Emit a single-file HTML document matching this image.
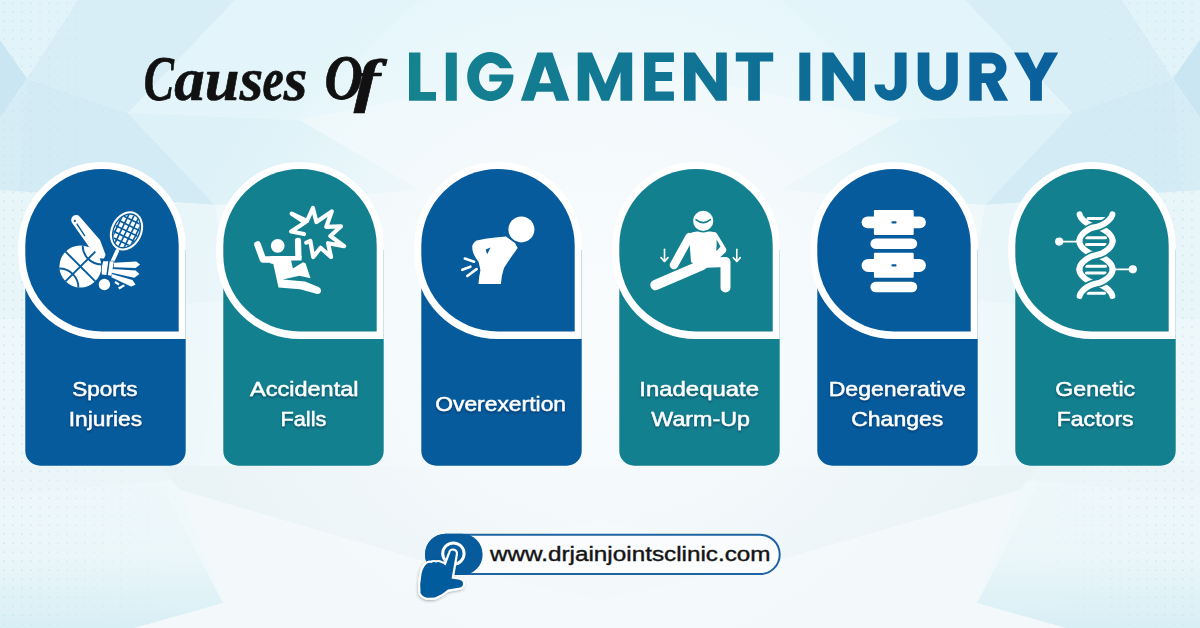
<!DOCTYPE html>
<html><head><meta charset="utf-8">
<style>
html,body{margin:0;padding:0;}
body{width:1200px;height:628px;overflow:hidden;position:relative;background:#e9f5f9;font-family:"Liberation Sans",sans-serif;}
svg{position:absolute;left:0;top:0;}
.ct{font-family:"Liberation Sans",sans-serif;font-size:21px;fill:#fff;stroke:#fff;stroke-width:0.45px;}
</style></head>
<body>
<svg width="1200" height="628" viewBox="0 0 1200 628">
<defs>
  <filter id="ts" x="-10%" y="-30%" width="120%" height="170%"><feDropShadow dx="0" dy="1.6" stdDeviation="1.3" flood-color="#001a33" flood-opacity="0.45"/></filter>
  <linearGradient id="tg" x1="409" y1="0" x2="1059" y2="0" gradientUnits="userSpaceOnUse">
    <stop offset="0" stop-color="#15838f"/>
    <stop offset="1" stop-color="#0a5f9c"/>
  </linearGradient>
</defs>
<defs>
<linearGradient id="bl" x1="0" y1="481" x2="0" y2="628" gradientUnits="userSpaceOnUse"><stop offset="0" stop-color="#eef8fa"/><stop offset="0.5" stop-color="#ebf6f9"/><stop offset="1" stop-color="#d8eff5"/></linearGradient>
<radialGradient id="glow" cx="600" cy="330" r="420" gradientUnits="userSpaceOnUse" gradientTransform="translate(600 330) scale(1 0.9) translate(-600 -330)"><stop offset="0" stop-color="#f9fcfd" stop-opacity="1"/><stop offset="0.55" stop-color="#f6fafc" stop-opacity="0.75"/><stop offset="1" stop-color="#f4fafc" stop-opacity="0"/></radialGradient>
<pattern id="dots" x="0" y="0" width="9" height="9" patternUnits="userSpaceOnUse"><circle cx="4" cy="3.2" r="0.95" fill="#c5e2ee"/></pattern>
<linearGradient id="lfade" x1="0" y1="0" x2="1" y2="0"><stop offset="0" stop-color="#fff" stop-opacity="1"/><stop offset="1" stop-color="#fff" stop-opacity="0"/></linearGradient>
<linearGradient id="rfade" x1="1" y1="0" x2="0" y2="0"><stop offset="0" stop-color="#fff" stop-opacity="1"/><stop offset="1" stop-color="#fff" stop-opacity="0"/></linearGradient>
<mask id="dm"><rect x="0" y="0" width="200" height="628" fill="url(#lfade)"/><rect x="1000" y="0" width="200" height="628" fill="url(#rfade)"/></mask>
</defs>
<rect x="0" y="0" width="1200" height="628" fill="#eff8fa"/>
<polygon points="0,0 78,0 27,78.5 0,40" fill="#e2f4f9"/>
<polygon points="1200,0 1122,0 1173,78.5 1200,40" fill="#e2f4f9"/>
<polygon points="0,40 27,78.5 0,118" fill="#c9e6f2"/>
<polygon points="1200,40 1173,78.5 1200,118" fill="#c9e6f2"/>
<polygon points="78,0 235,0 128,113 27,78.5" fill="#d7eef6"/>
<polygon points="1122,0 965,0 1072,113 1173,78.5" fill="#d7eef6"/>
<polygon points="27,78.5 128,113 215,205 0,190" fill="#d3ebf4"/>
<polygon points="1173,78.5 1072,113 985,205 1200,190" fill="#d3ebf4"/>
<polygon points="0,118 27,78.5 20,180 0,260" fill="#d6edf5"/>
<polygon points="1200,118 1173,78.5 1180,180 1200,260" fill="#d6edf5"/>
<polygon points="235,0 420,0 300,120 128,113" fill="#e3f5fa"/>
<polygon points="965,0 780,0 900,120 1072,113" fill="#e3f5fa"/>
<polygon points="128,113 300,120 420,190 215,205" fill="#ddf2f8"/>
<polygon points="1072,113 900,120 780,190 985,205" fill="#ddf2f8"/>
<polygon points="420,0 600,0 600,60 300,120" fill="#e5f6fb"/>
<polygon points="780,0 600,0 600,60 900,120" fill="#e5f6fb"/>
<polygon points="300,120 600,60 600,180 420,190" fill="#edf8fb"/>
<polygon points="900,120 600,60 600,180 780,190" fill="#edf8fb"/>
<polygon points="0,190 215,205 230,300 0,320" fill="#e8f5f9"/>
<polygon points="1200,190 985,205 970,300 1200,320" fill="#e8f5f9"/>
<polygon points="0,320 230,300 200,466 0,466" fill="#eef8fa"/>
<polygon points="1200,320 970,300 1000,466 1200,466" fill="#eef8fa"/>
<polygon points="0,466 300,466 160,481 0,497" fill="#ecf6f9"/>
<polygon points="1200,466 900,466 1040,481 1200,497" fill="#ecf6f9"/>
<polygon points="160,466 600,466 600,520 420,560 180,490" fill="#eaf3f6"/>
<polygon points="1040,466 600,466 600,520 780,560 1020,490" fill="#eaf3f6"/>
<polygon points="0,497 160,481 223,603 135,628 0,628" fill="url(#bl)"/>
<polygon points="1200,497 1040,481 977,603 1065,628 1200,628" fill="url(#bl)"/>
<polygon points="180,490 420,560 600,600 600,628 135,628 223,603" fill="#f3f9fb"/>
<polygon points="1020,490 780,560 600,600 600,628 1065,628 977,603" fill="#f3f9fb"/>
<rect x="0" y="0" width="1200" height="628" fill="url(#glow)"/>
<rect x="0" y="0" width="1200" height="628" fill="url(#dots)" mask="url(#dm)" opacity="0.7"/>
<text transform="translate(143.81,99.95) scale(0.7528,1.0522)" font-family="Liberation Serif" font-style="italic" font-weight="bold" font-size="60" fill="#111" stroke="#111" stroke-width="0.7" vector-effect="non-scaling-stroke" stroke-linejoin="round">C</text>
<text transform="translate(174.34,99.95) scale(1.0157,1.0056)" font-family="Liberation Serif" font-style="italic" font-weight="bold" font-size="60" fill="#111" stroke="#111" stroke-width="0.7" vector-effect="non-scaling-stroke" stroke-linejoin="round">a</text>
<text transform="translate(204.66,99.95) scale(1.0408,1.0313)" font-family="Liberation Serif" font-style="italic" font-weight="bold" font-size="60" fill="#111" stroke="#111" stroke-width="0.7" vector-effect="non-scaling-stroke" stroke-linejoin="round">u</text>
<text transform="translate(239.87,99.95) scale(1.0034,1.0045)" font-family="Liberation Serif" font-style="italic" font-weight="bold" font-size="60" fill="#111" stroke="#111" stroke-width="0.7" vector-effect="non-scaling-stroke" stroke-linejoin="round">s</text>
<text transform="translate(262.43,99.95) scale(0.7990,1.0045)" font-family="Liberation Serif" font-style="italic" font-weight="bold" font-size="60" fill="#111" stroke="#111" stroke-width="0.7" vector-effect="non-scaling-stroke" stroke-linejoin="round">e</text>
<text transform="translate(283.67,99.95) scale(1.0080,1.0045)" font-family="Liberation Serif" font-style="italic" font-weight="bold" font-size="60" fill="#111" stroke="#111" stroke-width="0.7" vector-effect="non-scaling-stroke" stroke-linejoin="round">s</text>
<text transform="translate(324.43,99.45) scale(0.8869,1.0446)" font-family="Liberation Serif" font-style="italic" font-weight="bold" font-size="60" fill="#111" stroke="#111" stroke-width="0.7" vector-effect="non-scaling-stroke" stroke-linejoin="round">O</text>
<text transform="translate(353.85,99.80) scale(1.3381,0.9906)" font-family="Liberation Serif" font-style="italic" font-weight="bold" font-size="60" fill="#111" stroke="#111" stroke-width="0.7" vector-effect="non-scaling-stroke" stroke-linejoin="round">f</text>
<g fill="url(#tg)" fill-rule="evenodd">
<path d="M409,52.6 H420.4 V91.9 H436 V100.8 H409 Z"/>
<path d="M445.8,52.6 H456.8 V100.8 H445.8 Z"/>
<path d="M512,68.2 A23.1,24.5 0 1 0 513.3,74.4 H489.3 V81.4 H502.1 A11.8,14.1 0 1 1 499.9,68.2 Z"/>
<path d="M520.9,100.8 L537.3,52.6 H552.4 L569.3,100.8 H556.2 L553.1,91.8 H536.6 L533.6,100.8 Z M539.2,83.3 H551 L545,65.9 Z"/>
<path d="M577.7,100.8 V52.6 H592 L605.3,84 L618.5,52.6 H632.2 V100.8 H620.5 V72 L609,100.8 H601.7 L589.3,72 V100.8 Z"/>
<path d="M644.1,52.6 H673.9 V62.1 H655.4 V72.1 H672.1 V81.1 H655.4 V91.5 H673.9 V100.8 H644.1 Z"/>
<path d="M684,52.6 H695 L716.1,82.8 V52.6 H726.8 V100.8 H716 L695.6,72.1 V100.8 H684 Z"/>
<path d="M735.8,52.6 H773.2 V61.6 H759.9 V100.8 H748.2 V61.6 H735.8 Z"/>
<path d="M799.3,52.6 H810.3 V100.8 H799.3 Z"/>
<path d="M822.3,52.6 H833.3 L853.5,81.5 V52.6 H865 V100.8 H854 L833.8,72 V100.8 H822.3 Z"/>
<path d="M894.7,52.6 H906.6 V84.6 A16.05,16.2 0 0 1 874.5,84.6 H884.6 A5.05,5.7 0 0 0 894.7,84.6 Z"/>
<path d="M917.7,52.6 H929.4 V81 A8.4,9 0 0 0 946.2,81 V52.6 H957.8 V81 A20.05,19.8 0 0 1 917.7,81 Z"/>
<path d="M969.4,52.6 H991 A15.9,15.2 0 0 1 997.5,81.5 L1008.2,100.8 H994.4 L985.5,83 H981.7 V100.8 H969.4 Z M981.7,63.5 V73.2 H991 A4.85,4.85 0 0 0 991,63.5 Z"/>
<path d="M1014,52.6 H1028 L1036.1,69 L1044.5,52.6 H1058.3 L1041.9,81 V100.8 H1030.1 V81 Z"/>
</g>
<g transform="translate(0,0)">
<path d="M25.3,250 H185.7 V450.7 A15,15 0 0 1 170.7,465.7 H40.3 A15,15 0 0 1 25.3,450.7 Z" fill="#065b9c"/>
<path d="M18.3,245.7 A83.7,83.7 0 0 1 185.7,245.7 V339 H102 A83.7,83.7 0 0 1 18.3,255.3 Z" fill="#fff"/>
<path d="M25.3,245.7 A76.7,76.7 0 0 1 178.7,245.7 V331.5 H102 A76.7,76.7 0 0 1 25.3,254.8 Z" fill="#065b9c"/>
</g>
<text x="72.25" y="396.3" class="ct" filter="url(#ts)" textLength="65.17" lengthAdjust="spacingAndGlyphs">Sports</text>
<text x="68.75" y="425.7" class="ct" filter="url(#ts)" textLength="73.40" lengthAdjust="spacingAndGlyphs">Injuries</text>
<g transform="translate(198,0)">
<path d="M25.3,250 H185.7 V450.7 A15,15 0 0 1 170.7,465.7 H40.3 A15,15 0 0 1 25.3,450.7 Z" fill="#13808f"/>
<path d="M18.3,245.7 A83.7,83.7 0 0 1 185.7,245.7 V339 H102 A83.7,83.7 0 0 1 18.3,255.3 Z" fill="#fff"/>
<path d="M25.3,245.7 A76.7,76.7 0 0 1 178.7,245.7 V331.5 H102 A76.7,76.7 0 0 1 25.3,254.8 Z" fill="#13808f"/>
</g>
<text x="250.00" y="396.3" class="ct" filter="url(#ts)" textLength="108.55" lengthAdjust="spacingAndGlyphs">Accidental</text>
<text x="280.50" y="425.7" class="ct" filter="url(#ts)" textLength="45.91" lengthAdjust="spacingAndGlyphs">Falls</text>
<g transform="translate(396,0)">
<path d="M25.3,250 H185.7 V450.7 A15,15 0 0 1 170.7,465.7 H40.3 A15,15 0 0 1 25.3,450.7 Z" fill="#065b9c"/>
<path d="M18.3,245.7 A83.7,83.7 0 0 1 185.7,245.7 V339 H102 A83.7,83.7 0 0 1 18.3,255.3 Z" fill="#fff"/>
<path d="M25.3,245.7 A76.7,76.7 0 0 1 178.7,245.7 V331.5 H102 A76.7,76.7 0 0 1 25.3,254.8 Z" fill="#065b9c"/>
</g>
<text x="435.20" y="410.7" class="ct" filter="url(#ts)" textLength="130.87" lengthAdjust="spacingAndGlyphs">Overexertion</text>
<g transform="translate(594,0)">
<path d="M25.3,250 H185.7 V450.7 A15,15 0 0 1 170.7,465.7 H40.3 A15,15 0 0 1 25.3,450.7 Z" fill="#13808f"/>
<path d="M18.3,245.7 A83.7,83.7 0 0 1 185.7,245.7 V339 H102 A83.7,83.7 0 0 1 18.3,255.3 Z" fill="#fff"/>
<path d="M25.3,245.7 A76.7,76.7 0 0 1 178.7,245.7 V331.5 H102 A76.7,76.7 0 0 1 25.3,254.8 Z" fill="#13808f"/>
</g>
<text x="639.25" y="396.3" class="ct" filter="url(#ts)" textLength="119.85" lengthAdjust="spacingAndGlyphs">Inadequate</text>
<text x="651.25" y="425.7" class="ct" filter="url(#ts)" textLength="98.80" lengthAdjust="spacingAndGlyphs">Warm-Up</text>
<g transform="translate(792,0)">
<path d="M25.3,250 H185.7 V450.7 A15,15 0 0 1 170.7,465.7 H40.3 A15,15 0 0 1 25.3,450.7 Z" fill="#065b9c"/>
<path d="M18.3,245.7 A83.7,83.7 0 0 1 185.7,245.7 V339 H102 A83.7,83.7 0 0 1 18.3,255.3 Z" fill="#fff"/>
<path d="M25.3,245.7 A76.7,76.7 0 0 1 178.7,245.7 V331.5 H102 A76.7,76.7 0 0 1 25.3,254.8 Z" fill="#065b9c"/>
</g>
<text x="828.70" y="396.3" class="ct" filter="url(#ts)" textLength="137.06" lengthAdjust="spacingAndGlyphs">Degenerative</text>
<text x="851.20" y="425.7" class="ct" filter="url(#ts)" textLength="92.08" lengthAdjust="spacingAndGlyphs">Changes</text>
<g transform="translate(990,0)">
<path d="M25.3,250 H185.7 V450.7 A15,15 0 0 1 170.7,465.7 H40.3 A15,15 0 0 1 25.3,450.7 Z" fill="#13808f"/>
<path d="M18.3,245.7 A83.7,83.7 0 0 1 185.7,245.7 V339 H102 A83.7,83.7 0 0 1 18.3,255.3 Z" fill="#fff"/>
<path d="M25.3,245.7 A76.7,76.7 0 0 1 178.7,245.7 V331.5 H102 A76.7,76.7 0 0 1 25.3,254.8 Z" fill="#13808f"/>
</g>
<text x="1055.30" y="396.3" class="ct" filter="url(#ts)" textLength="79.82" lengthAdjust="spacingAndGlyphs">Genetic</text>
<text x="1056.70" y="425.7" class="ct" filter="url(#ts)" textLength="76.93" lengthAdjust="spacingAndGlyphs">Factors</text>
<g id="ic1">
  <!-- bat -->
  <path d="M72.2,223 A4.4,4.4 0 0 1 80,217 L100,240 L105.6,254.7 L104,258.5 L96.5,258.2 L86.5,243.2 Z" fill="#fff"/>
  <line x1="77" y1="224.1" x2="84.6" y2="235.6" stroke="#065b9c" stroke-width="1.4" stroke-linecap="round"/>
  <circle cx="74.8" cy="220.9" r="1.1" fill="#065b9c"/>
  <!-- racket -->
  <line x1="117.2" y1="251" x2="112.6" y2="261" stroke="#fff" stroke-width="3.8" stroke-linecap="round"/>
  <g transform="rotate(26 126.5 230.9)">
    <clipPath id="rkc"><ellipse cx="126.5" cy="230.9" rx="12.1" ry="17.0"/></clipPath>
    <ellipse cx="126.5" cy="230.9" rx="15.6" ry="20.5" fill="#fff"/>
    <ellipse cx="126.5" cy="230.9" rx="13.5" ry="18.4" fill="#065b9c"/>
    <ellipse cx="126.5" cy="230.9" rx="12.1" ry="17.0" fill="#fff"/>
    <g clip-path="url(#rkc)" stroke="#065b9c" stroke-width="1.6">
      <line x1="110" y1="218.9" x2="145" y2="218.9"/><line x1="110" y1="224.9" x2="145" y2="224.9"/><line x1="110" y1="230.9" x2="145" y2="230.9"/><line x1="110" y1="236.9" x2="145" y2="236.9"/><line x1="110" y1="242.9" x2="145" y2="242.9"/>
      <line x1="116.3" y1="210" x2="116.3" y2="253"/><line x1="121.4" y1="210" x2="121.4" y2="253"/><line x1="126.5" y1="210" x2="126.5" y2="253"/><line x1="131.6" y1="210" x2="131.6" y2="253"/><line x1="136.7" y1="210" x2="136.7" y2="253"/>
    </g>
  </g>
  <!-- basketball -->
  <circle cx="80.4" cy="266.5" r="21" fill="#fff"/>
  <g stroke="#065b9c" stroke-width="1.9" fill="none">
    <line x1="65.5" y1="251.6" x2="95.3" y2="281.4"/>
    <line x1="65.5" y1="281.4" x2="95.3" y2="251.6"/>
    <path d="M82.6,246 A19,19 0 0 0 101.4,264.5"/>
    <path d="M59.4,268.5 A19,19 0 0 1 78.4,287.5"/>
  </g>
  <!-- small ball -->
  <circle cx="104.4" cy="284.5" r="7.4" fill="#065b9c"/>
  <circle cx="104.4" cy="284.5" r="5.7" fill="#fff"/>
  <!-- shuttle cork -->
  <path d="M103.2,261.6 L113.6,261.6 L111.2,275.6 L101.9,274.3 Q101.3,268 103.2,261.6 Z" fill="#fff" stroke="#065b9c" stroke-width="1.6" paint-order="stroke"/>
  <path d="M103.2,261.6 L113.6,261.6 L111.2,275.6 L101.9,274.3 Q101.3,268 103.2,261.6 Z" fill="#fff"/>
  <line x1="109" y1="261" x2="107" y2="276" stroke="#065b9c" stroke-width="1.5"/>
  <!-- feathers -->
  <path d="M113.9,262.8 L136.2,261.6 L140.1,264.4 L135.6,267.9 L113.6,267.3 Z" fill="#fff"/>
  <path d="M112.3,268.9 L135.6,270.5 L139.4,274 L134.3,277.8 L111.7,272.7 Z" fill="#fff"/>
  <path d="M111.7,273.9 L132.4,280 L135.6,284.8 L131.1,286.4 L111.4,277.2 Z" fill="#fff"/>
  <path d="M115.5,281 L119.5,283.5 L118.5,285.5 L114.5,283 Z" fill="#fff"/>
  <path d="M118,287.5 L123.5,284.5 L125,286 L119.5,289.5 Z" fill="#fff"/>
</g>

<g id="ic2" fill="none" stroke="#fff" stroke-linecap="round" stroke-linejoin="round">
<path d="M304,234 L291.2,231.5 L305,222.5 L291.7,213.7 L307,221 L312.9,208 L316.4,222 L331.8,211.4 L326.3,226.8 L341,226.3 L330.4,236 L344.1,246.1 L328.1,243.2 L331,257 L320.6,247.8 L313.2,257 L310.3,240.9 L306.3,242.6" stroke-width="4.2"/>
<circle cx="277.7" cy="245.8" r="6.9" fill="#fff" stroke="none"/>
<polyline points="257.5,244.5 263,259.5 274,259.5" stroke-width="6.6"/>
<polyline points="298,240.8 298.4,257" stroke-width="6.2"/>
<path d="M270,256 L301.6,256 L301.6,260.5 L291.1,260.5 L292.9,268.6 L303,262.3 L305.5,263.3 L310.5,278.3 L299.5,275.8 L282.7,279.4 L305,281.6 L318.5,287 Q322.5,289.5 320.5,292.5 Q318.5,295 315.5,293.6 L300,289.3 L278.5,287.4 L273.3,264 L270,263.3 Z" fill="#fff" stroke="none"/>
</g>
<g id="ic3">
<path d="M476.6,240.6 Q485,238.5 495.3,237.5 L506,236.5 L515,243 L517.6,248 Q515,252 511.4,256.7 L504,267.9 Q501.5,275 500.9,284 L478.5,284 Q479,276 480.4,270.4 Q479.5,265 478.5,261.7 Q474,256 472.9,251.8 Q471.5,246.5 472.9,244.3 Q474.5,241.5 476.6,240.6 Z" fill="#fff"/>
<circle cx="521.4" cy="229.4" r="14.6" fill="#065b9c"/>
<circle cx="521.4" cy="229.4" r="13" fill="#fff"/>
<path d="M485.6,249.4 L490.6,247.6 L487.2,254.2 Z" fill="#065b9c"/>
<g stroke="#fff" stroke-width="2.6" stroke-linecap="round">
<line x1="464.8" y1="258.6" x2="474.1" y2="261.7"/>
<line x1="462.3" y1="269.8" x2="470.4" y2="266.7"/>
<line x1="467.3" y1="276" x2="476.6" y2="269.1"/>
</g>
</g>
<g id="ic4" stroke-linecap="round" stroke-linejoin="round">
<path d="M689,234 Q692,231.5 697,231.5 L710,231.5 Q715,231.5 716.5,236 L716.5,262 L702,268 L691,262 Z" fill="#fff"/>
<polyline points="689.5,237 674,265" stroke="#fff" stroke-width="8.5" fill="none"/>
<polyline points="714,236 722.5,250 717,255" stroke="#fff" stroke-width="7.5" fill="none"/>
<path d="M716.6,239.5 L720.5,246.5 L716.6,251 Z" fill="#13808f"/>
<polyline points="702,265 655.5,285" stroke="#fff" stroke-width="10.5" fill="none"/>
<polyline points="700,263 725.5,262 725.5,287.5" stroke="#fff" stroke-width="10" fill="none"/>
<circle cx="703.2" cy="220.8" r="11.6" fill="#13808f"/>
<circle cx="703.2" cy="220.8" r="10.1" fill="#fff"/>
<path d="M696,219.6 Q703.2,225.6 710.4,219.6" stroke="#13808f" stroke-width="1.5" fill="none"/>
<g stroke="#fff" stroke-width="1.6" fill="none">
<line x1="664.5" y1="249.2" x2="664.5" y2="261.2"/><polyline points="661,257.6 664.5,261.4 668,257.6"/>
<line x1="736.8" y1="249.2" x2="736.8" y2="261.2"/><polyline points="733.3,257.6 736.8,261.4 740.3,257.6"/>
</g>
</g>
<g id="ic5"><rect x="861.6" y="216.4" width="64.3" height="11.9" rx="6.0" fill="#fff"/><rect x="873.9" y="209.9" width="39.8" height="25.0" rx="1" fill="#fff"/><rect x="891.4" y="221.3" width="5.2" height="2.2" rx="1.1" fill="#065b9c"/><rect x="870.4" y="238.4" width="46.8" height="10.5" rx="5.25" fill="#fff"/><rect x="861.6" y="258.9" width="64.3" height="13.1" rx="6.6" fill="#fff"/><rect x="873.9" y="252.8" width="39.8" height="24.9" rx="1" fill="#fff"/><rect x="891.4" y="264.3" width="5.2" height="2.2" rx="1.1" fill="#065b9c"/><rect x="870.4" y="281.7" width="46.8" height="10.5" rx="5.25" fill="#fff"/></g>
<g id="ic6" fill="none" stroke-linecap="round">
<line x1="1088" y1="218.4" x2="1104.5" y2="218.4" stroke="#fff" stroke-width="3"/>
<line x1="1086.5" y1="237.8" x2="1105.5" y2="237.8" stroke="#fff" stroke-width="3"/>
<line x1="1086.5" y1="244.6" x2="1105.5" y2="244.6" stroke="#fff" stroke-width="3"/>
<line x1="1086.5" y1="266.2" x2="1105.5" y2="266.2" stroke="#fff" stroke-width="3"/>
<line x1="1086.5" y1="273" x2="1105.5" y2="273" stroke="#fff" stroke-width="3"/>
<line x1="1088" y1="293.2" x2="1104.5" y2="293.2" stroke="#fff" stroke-width="3"/>
<polyline points="1079.61,214.40 1079.96,215.51 1080.47,216.62 1081.14,217.72 1081.98,218.83 1082.98,219.94 1084.17,221.05 1085.54,222.16 1087.13,223.27 1089.00,224.38 1091.27,225.48 1094.57,226.59 1099.70,227.70 1102.21,228.81 1104.20,229.92 1105.89,231.03 1107.34,232.13 1108.59,233.24 1109.67,234.35 1110.57,235.46 1111.30,236.57 1111.87,237.68 1112.28,238.78 1112.52,239.89 1112.60,241.00" stroke="#fff" stroke-width="6.0"/>
<polyline points="1079.40,269.40 1079.48,270.51 1079.72,271.62 1080.13,272.72 1080.70,273.83 1081.43,274.94 1082.33,276.05 1083.41,277.16 1084.66,278.27 1086.11,279.38 1087.80,280.48 1089.79,281.59 1092.30,282.70 1097.43,283.81 1100.73,284.92 1103.00,286.02 1104.87,287.13 1106.46,288.24 1107.83,289.35 1109.02,290.46 1110.02,291.57 1110.86,292.68 1111.53,293.78 1112.04,294.89 1112.39,296.00" stroke="#fff" stroke-width="6.0"/>
<polyline points="1079.40,241.00 1079.49,242.18 1079.77,243.37 1080.23,244.55 1080.88,245.73 1081.72,246.92 1082.75,248.10 1083.98,249.28 1085.42,250.47 1087.11,251.65 1089.10,252.83 1091.58,254.02 1096.00,255.20 1100.42,256.38 1102.90,257.57 1104.89,258.75 1106.58,259.93 1108.02,261.12 1109.25,262.30 1110.28,263.48 1111.12,264.67 1111.77,265.85 1112.23,267.03 1112.51,268.22 1112.60,269.40" stroke="#fff" stroke-width="6.0"/>
<polyline points="1110.81,246.20 1110.25,246.95 1109.62,247.70 1108.91,248.45 1108.12,249.20 1107.24,249.95 1106.27,250.70 1105.20,251.45 1104.01,252.20 1102.68,252.95 1101.15,253.70 1099.29,254.45 1096.00,255.20 1092.71,255.95 1090.85,256.70 1089.32,257.45 1087.99,258.20 1086.80,258.95 1085.73,259.70 1084.76,260.45 1083.88,261.20 1083.09,261.95 1082.38,262.70 1081.75,263.45 1081.19,264.20" stroke="#13808f" stroke-width="9.2" stroke-linecap="butt"/>
<polyline points="1110.13,218.70 1109.49,219.45 1108.76,220.20 1107.95,220.95 1107.05,221.70 1106.06,222.45 1104.97,223.20 1103.75,223.95 1102.39,224.70 1100.81,225.45 1098.85,226.20 1094.84,226.95 1092.30,227.70 1090.52,228.45 1089.04,229.20 1087.74,229.95 1086.58,230.70 1085.53,231.45 1084.58,232.20 1083.72,232.95 1082.94,233.70 1082.25,234.45 1081.63,235.20 1081.09,235.95 1080.62,236.70" stroke="#13808f" stroke-width="9.2" stroke-linecap="butt"/>
<polyline points="1111.38,273.70 1110.91,274.45 1110.37,275.20 1109.75,275.95 1109.06,276.70 1108.28,277.45 1107.42,278.20 1106.47,278.95 1105.42,279.70 1104.26,280.45 1102.96,281.20 1101.48,281.95 1099.70,282.70 1097.16,283.45 1093.15,284.20 1091.19,284.95 1089.61,285.70 1088.25,286.45 1087.03,287.20 1085.94,287.95 1084.95,288.70 1084.05,289.45 1083.24,290.20 1082.51,290.95 1081.87,291.70" stroke="#13808f" stroke-width="9.2" stroke-linecap="butt"/>
<polyline points="1112.60,241.00 1112.51,242.18 1112.23,243.37 1111.77,244.55 1111.12,245.73 1110.28,246.92 1109.25,248.10 1108.02,249.28 1106.58,250.47 1104.89,251.65 1102.90,252.83 1100.42,254.02 1096.00,255.20 1091.58,256.38 1089.10,257.57 1087.11,258.75 1085.42,259.93 1083.98,261.12 1082.75,262.30 1081.72,263.48 1080.88,264.67 1080.23,265.85 1079.77,267.03 1079.49,268.22 1079.40,269.40" stroke="#fff" stroke-width="6.0"/>
<polyline points="1112.39,214.40 1112.04,215.51 1111.53,216.62 1110.86,217.72 1110.02,218.83 1109.02,219.94 1107.83,221.05 1106.46,222.16 1104.87,223.27 1103.00,224.38 1100.73,225.48 1097.43,226.59 1092.30,227.70 1089.79,228.81 1087.80,229.92 1086.11,231.03 1084.66,232.13 1083.41,233.24 1082.33,234.35 1081.43,235.46 1080.70,236.57 1080.13,237.68 1079.72,238.78 1079.48,239.89 1079.40,241.00" stroke="#fff" stroke-width="6.0"/>
<polyline points="1112.60,269.40 1112.52,270.51 1112.28,271.62 1111.87,272.72 1111.30,273.83 1110.57,274.94 1109.67,276.05 1108.59,277.16 1107.34,278.27 1105.89,279.38 1104.20,280.48 1102.21,281.59 1099.70,282.70 1094.57,283.81 1091.27,284.92 1089.00,286.02 1087.13,287.13 1085.54,288.24 1084.17,289.35 1082.98,290.46 1081.98,291.57 1081.14,292.68 1080.47,293.78 1079.96,294.89 1079.61,296.00" stroke="#fff" stroke-width="6.0"/>
<line x1="1062" y1="241.6" x2="1077" y2="241.6" stroke="#fff" stroke-width="1.8"/>
<circle cx="1059.2" cy="241.6" r="4.1" fill="#fff"/>
<line x1="1115" y1="269.3" x2="1130" y2="269.3" stroke="#fff" stroke-width="1.8"/>
<circle cx="1132.8" cy="269.3" r="4.1" fill="#fff"/>
</g>
<g id="pill">
<defs><filter id="hs" x="-30%" y="-30%" width="160%" height="160%"><feDropShadow dx="-0.5" dy="1.2" stdDeviation="1" flood-color="#334" flood-opacity="0.35"/></filter></defs>
<rect x="426" y="534.8" width="353.7" height="39.3" rx="19.65" fill="#fafcfd" stroke="#1e63a2" stroke-width="2"/>
<rect x="425" y="533.8" width="57.6" height="41.3" rx="20.6" fill="#065b9c"/>
<text x="490" y="560.8" font-family="Liberation Sans" font-size="20" fill="#141414" stroke="#141414" stroke-width="0.4" textLength="280.6" lengthAdjust="spacingAndGlyphs">www.drjainjointsclinic.com</text>
<circle cx="453.4" cy="553.6" r="10.7" fill="none" stroke="#fff" stroke-width="3"/>
<path filter="url(#hs)" d="M450.2,553 A2.8,2.8 0 0 1 455.8,554 L451.6,578.4 L459.5,579.8 Q463.5,581 463,584.5 Q462.5,587.5 458.5,587.8 L448,589.5 Q442,595 435,597.5 L427,597.8 Q422,596.5 420.5,593 Q419.5,584 421.5,574 Q423,567 426.5,564 Q429,562 431.5,563 Q433.5,561.5 436,562.5 Q438.5,561.5 441,563 Q443.5,563.2 445.6,565.5 Z" fill="#065b9c" stroke="#fff" stroke-width="4.4" stroke-linejoin="round" paint-order="stroke"/>
</g>
</svg>
</body></html>
